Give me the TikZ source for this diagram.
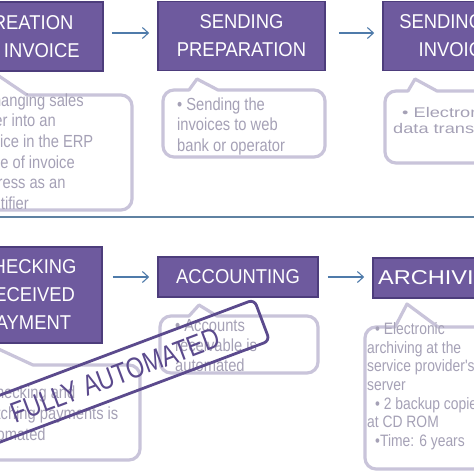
\documentclass[tikz,border=0pt]{standalone}
\usepackage{graphicx}
\usepackage{fontspec}
\setmainfont{Liberation Sans}[FakeStretch=0.92]
\newfontfamily\bubfont{Liberation Sans}[FakeStretch=0.84]
\newfontfamily\widefont{Liberation Sans}[FakeStretch=1.3]
\newfontfamily\stampfont{Liberation Sans}[FakeStretch=0.8]
\usetikzlibrary{arrows.meta}
\definecolor{boxfill}{HTML}{6E5A9E}
\definecolor{boxline}{HTML}{4D3D7C}
\definecolor{bubline}{HTML}{C9C4DA}
\definecolor{bubtext}{HTML}{A5A1B6}
\definecolor{arrowblue}{HTML}{4F7BAA}
\definecolor{rulecol}{HTML}{5F82A2}
\definecolor{stampcol}{HTML}{5B4A8D}
% L T R B leftbase tipx tipy rightbase
\newcommand\mycallout[8]{%
  \draw[cbox] (#5,#2) -- (#6,#7) -- (#8,#2) -- ({#3-11},#2)
    arc[start angle=-90,end angle=0,radius=11] -- (#3,{#4-11})
    arc[start angle=0,end angle=90,radius=11] -- ({#1+11},#4)
    arc[start angle=90,end angle=180,radius=11] -- (#1,{#2+11})
    arc[start angle=180,end angle=270,radius=11] -- cycle;}
\begin{document}
\begin{tikzpicture}[x=1pt,y=-1pt,
  tbox/.style={draw=boxline, fill=boxfill, line width=1.6pt, text=white, align=center, inner sep=0pt, font=\fontsize{20}{28}\selectfont},
  cbox/.style={draw=bubline, line width=3.2pt, line join=round},
  ctext/.style={text=bubtext, align=left, anchor=north west, inner sep=0pt},
  arr/.style={draw=arrowblue, line width=1.1pt, -{Straight Barb[length=6pt,width=11pt]}},
  stamp/.style={draw=stampcol, text=stampcol, line width=2.8pt, rounded corners=6pt, inner sep=0pt, font=\stampfont\fontsize{29}{32}\selectfont}]
\useasboundingbox (0,0) rectangle (474,474);
\clip (0,0) rectangle (474,474);
\fill[white] (0,0) rectangle (474,474);

% callouts
\mycallout{-40}{95}{132}{210}{-22}{-10}{70}{27}
\mycallout{163}{90}{325}{157}{189}{197}{79}{218}
\mycallout{385}{91}{560}{163}{408}{415}{79}{437}
\mycallout{-35}{365}{140}{460}{-20}{-8}{346}{33}
\mycallout{160}{316}{318}{373}{189}{199}{305}{217}
\mycallout{365}{327}{560}{469}{395}{407}{304}{438}

\node[ctext, font=\bubfont\fontsize{17.5}{20.6}\selectfont] (t1) at (-27,93.5) {• Changing sales\\order into an\\invoice in the ERP\\• Use of invoice\\address as an\\identifier};
\node[ctext, font=\bubfont\fontsize{17.5}{20.5}\selectfont] (t2) at (177,97.5) {• Sending the\\invoices to web\\bank or operator};
\node[ctext, font=\widefont\fontsize{14}{16.5}\selectfont] (t3) at (393,107) {\hspace*{9pt}• Electronic\\data transfer};
\node[ctext, font=\bubfont\fontsize{17.5}{21}\selectfont] (t4) at (-24,385.5) {• Checking and\\matching payments is\\automated};
\node[ctext, font=\bubfont\fontsize{17.5}{20}\selectfont] (t5) at (175,319.2) {• Accounts\\receivable is\\automated};
\node[ctext, font=\bubfont\fontsize{16.5}{18.6}\selectfont] (t6) at (367,322.5) {\hspace*{8pt}• Electronic\\archiving at the\\service provider's\\server\\\hspace*{8pt}• 2 backup copies\\at CD ROM\\\hspace*{8pt}•Time: 6 years};

% title boxes
\node[tbox, minimum width=153pt, minimum height=69pt] (b1) at (26.5,36.5) {CREATION\\OF INVOICE};
\node[tbox, minimum width=167pt, minimum height=69pt] (b2) at (241.5,36) {SENDING\\PREPARATION};
\node[tbox, minimum width=147pt, minimum height=69pt] (b3) at (456.5,36) {SENDING OF\\INVOICE};
\node[tbox, minimum width=148pt, minimum height=96pt] (b4) at (28,295) {CHECKING\\RECEIVED\\PAYMENT};
\node[tbox, minimum width=160pt, minimum height=40pt] (b5) at (238,277) {ACCOUNTING};
\node[tbox, minimum width=141pt, minimum height=40pt] (b6) at (443.5,278) {\scalebox{1.28}[1]{ARCHIVING}};

% arrows
\draw[arr, shorten <=8pt, shorten >=8pt] ([yshift=3.5pt]b1.east) -- ([yshift=3.5pt]b1.east -| b2.west);
\draw[arr, shorten <=13pt, shorten >=8pt] ([yshift=3pt]b2.east) -- ([yshift=3pt]b2.east -| b3.west);
\draw[arr, shorten <=10pt, shorten >=8pt] (b4.east |- b5.west) -- (b5.west);
\draw[arr, shorten <=9pt, shorten >=8pt] (b5.east) -- (b5.east -| b6.west);

% divider
\draw[rulecol, line width=1.5pt] (0,217) -- (474,217);

% stamp
\node[stamp, rotate=20.6, minimum width=314pt, minimum height=44pt] (st) at (115,375.4) {FULLY AUTOMATED};
\end{tikzpicture}
\end{document}
